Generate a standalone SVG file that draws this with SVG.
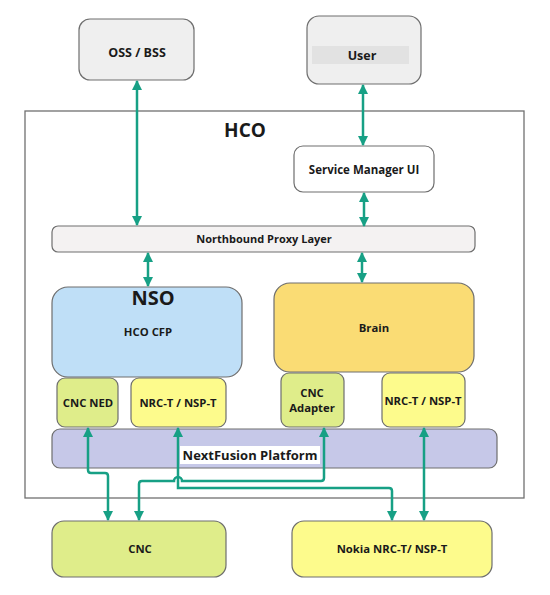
<svg xmlns="http://www.w3.org/2000/svg" width="550" height="595" viewBox="0 0 550 595">
<style>
text{font-family:"Open Sans","Noto Sans","DejaVu Sans",sans-serif;font-weight:bold;fill:#1a1a1a;text-anchor:middle}
.lbl{font-size:11.3px}
.box{stroke:#6e6e6e;stroke-width:1.2}
.con{fill:none;stroke:#17a085;stroke-width:2.5;marker-start:url(#ah);marker-end:url(#ah)}
</style>
<defs>
<marker id="ah" viewBox="0 0 10 10" refX="9" refY="5" markerWidth="10" markerHeight="10" markerUnits="userSpaceOnUse" orient="auto-start-reverse">
<path d="M0,0 L10,5 L0,10 z" fill="#17a085"/>
</marker>
</defs>
<rect width="550" height="595" fill="#ffffff"/>
<g id="hco">
<rect x="25" y="111" width="499" height="387" fill="#ffffff" stroke="#707070" stroke-width="1.3"/>
<text x="245" y="137" style="font-size:19px">HCO</text>
</g>
<g id="oss-bss">
<rect class="box" x="79" y="19" width="115" height="61" rx="11" fill="#efefef"/>
<text x="137" y="56.5" style="font-size:12.5px">OSS / BSS</text>
</g>
<g id="user">
<rect class="box" x="307" y="16" width="114" height="68" rx="12" fill="#efefef"/>
<rect x="312" y="46" width="97" height="18" fill="#e2e2e2"/>
<text x="362" y="59.5" style="font-size:12.5px">User</text>
</g>
<g id="service-manager-ui">
<rect class="box" x="294" y="146" width="140" height="46" rx="9" fill="#ffffff"/>
<text x="364" y="174" style="font-size:11.5px">Service Manager UI</text>
</g>
<g id="northbound-proxy-layer">
<rect class="box" x="52" y="226" width="423" height="26" rx="6" fill="#f4f2f2"/>
<text x="264" y="243" style="font-size:11px">Northbound Proxy Layer</text>
</g>
<g id="nso">
<rect class="box" x="52" y="287" width="190" height="90" rx="16" fill="#bfdff7"/>
<text x="153" y="305" style="font-size:20px">NSO</text>
<text class="lbl" x="148" y="336">HCO CFP</text>
</g>
<g id="brain">
<rect class="box" x="274" y="283" width="200" height="89" rx="16" fill="#fadc74"/>
<text class="lbl" x="374" y="332">Brain</text>
</g>
<g id="cnc-ned">
<rect class="box" x="57" y="378" width="61" height="49" rx="8" fill="#dfed8a"/>
<text class="lbl" x="88" y="407">CNC NED</text>
</g>
<g id="nrc-nsp-left">
<rect class="box" x="131" y="378" width="95" height="49" rx="8" fill="#fdfb8c"/>
<text class="lbl" x="178" y="407">NRC-T / NSP-T</text>
</g>
<g id="cnc-adapter">
<rect class="box" x="281" y="373" width="63" height="54" rx="8" fill="#dfed8a"/>
<text class="lbl" x="312" y="397">CNC</text>
<text class="lbl" x="312" y="412">Adapter</text>
</g>
<g id="nrc-nsp-right">
<rect class="box" x="382" y="373" width="83" height="54" rx="8" fill="#fdfb8c"/>
<text class="lbl" x="423" y="405">NRC-T / NSP-T</text>
</g>
<g id="nextfusion-platform">
<rect class="box" x="52" y="429" width="445" height="39" rx="8" fill="#c6c8e8"/>
<rect x="180" y="446" width="140" height="18" fill="#ffffff"/>
<text x="250" y="460" style="font-size:13px">NextFusion Platform</text>
</g>
<g id="cnc">
<rect class="box" x="52" y="521" width="174" height="56" rx="12" fill="#dfed8a"/>
<text class="lbl" x="140" y="553">CNC</text>
</g>
<g id="nokia">
<rect class="box" x="292" y="521" width="200" height="56" rx="12" fill="#fdfb8c"/>
<text class="lbl" x="392" y="553">Nokia NRC-T/ NSP-T</text>
</g>
<g id="connectors">
<path class="con" d="M137,81 V225"/>
<path class="con" d="M363,85 V145"/>
<path class="con" d="M364,193 V226"/>
<path class="con" d="M148,253 V286"/>
<path class="con" d="M362,253 V282"/>
<path class="con" d="M88,428 V470 Q88,473 91,473 H105 Q108,473 108,476 V520"/>
<path class="con" d="M178,428 V488 H389 Q392,488 392,491 V520"/>
<path class="con" d="M324,428 V478 Q324,481 321,481 H182 A4,4 0 0 0 174,481 H142 Q139,481 139,484 V520"/>
<path class="con" d="M424,428 V520"/>
</g>
</svg>
